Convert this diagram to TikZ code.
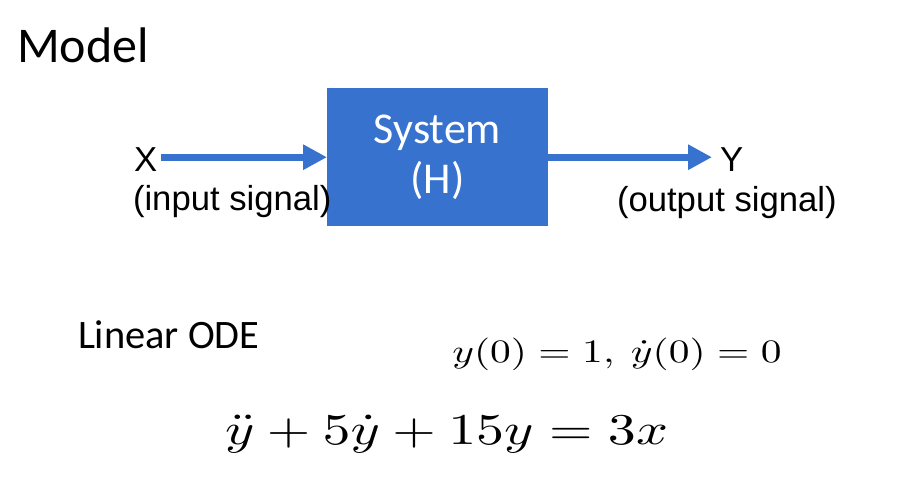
\documentclass[tikz,border=0pt]{standalone}
\usepackage{fontspec}
\setmainfont{Carlito}
\newfontfamily\arialfont{Liberation Sans}
\usetikzlibrary{arrows.meta}
\definecolor{sysblue}{RGB}{54,114,206}

\begin{document}
\begin{tikzpicture}[x=0.75pt,y=-0.75pt,line width=5pt,>={Triangle[length=18pt,width=18pt]},
  every node/.style={outer sep=0pt},
  sig/.style={->,sysblue},
  lbl/.style={inner sep=0pt,anchor=base west,font=\arialfont\fontsize{26}{30}\selectfont}]
  \useasboundingbox (0,0) rectangle (908,501);
  \node[inner sep=0pt,anchor=base west,font=\fontsize{37.5}{44}\selectfont] (title) at (17,62){Model};
  % block with its input and output
  \node[fill=sysblue,text=white,inner sep=0pt,minimum width=165.75pt,minimum height=103.3pt,
    align=center,font=\fontsize{33}{37.5}\selectfont] (sys) at (437.5,157.2){System\\(H)};
  \node[lbl] (xin) at (134,171.5){X};
  \node[lbl] (inlbl) at (133,210){(input signal)};
  \node[lbl] (yout) at (720,171.5){Y};
  \node[lbl] (outlbl) at (617,211){(output signal)};
  \draw[sig,shorten <=3pt] (xin.east |- sys.west)--(sys.west);
  \draw[sig,shorten >=6pt] (sys.east)--(yout.west |- sys.east);
  % the ode
  \node[inner sep=0pt,anchor=base west,font=\fontsize{30.3}{36}\selectfont] (ode) at (78,348){Linear ODE};
  \node[inner sep=0pt,anchor=base] (ic) at (617,362){\scalebox{3.11}[2.45]{$y(0)=1,\ \dot y(0)=0$}};
  \node[inner sep=0pt,anchor=base] (eq) at (446.5,444){\scalebox{4.19}[3.3]{$\ddot y+5\dot y+15y=3x$}};
\end{tikzpicture}
\end{document}
